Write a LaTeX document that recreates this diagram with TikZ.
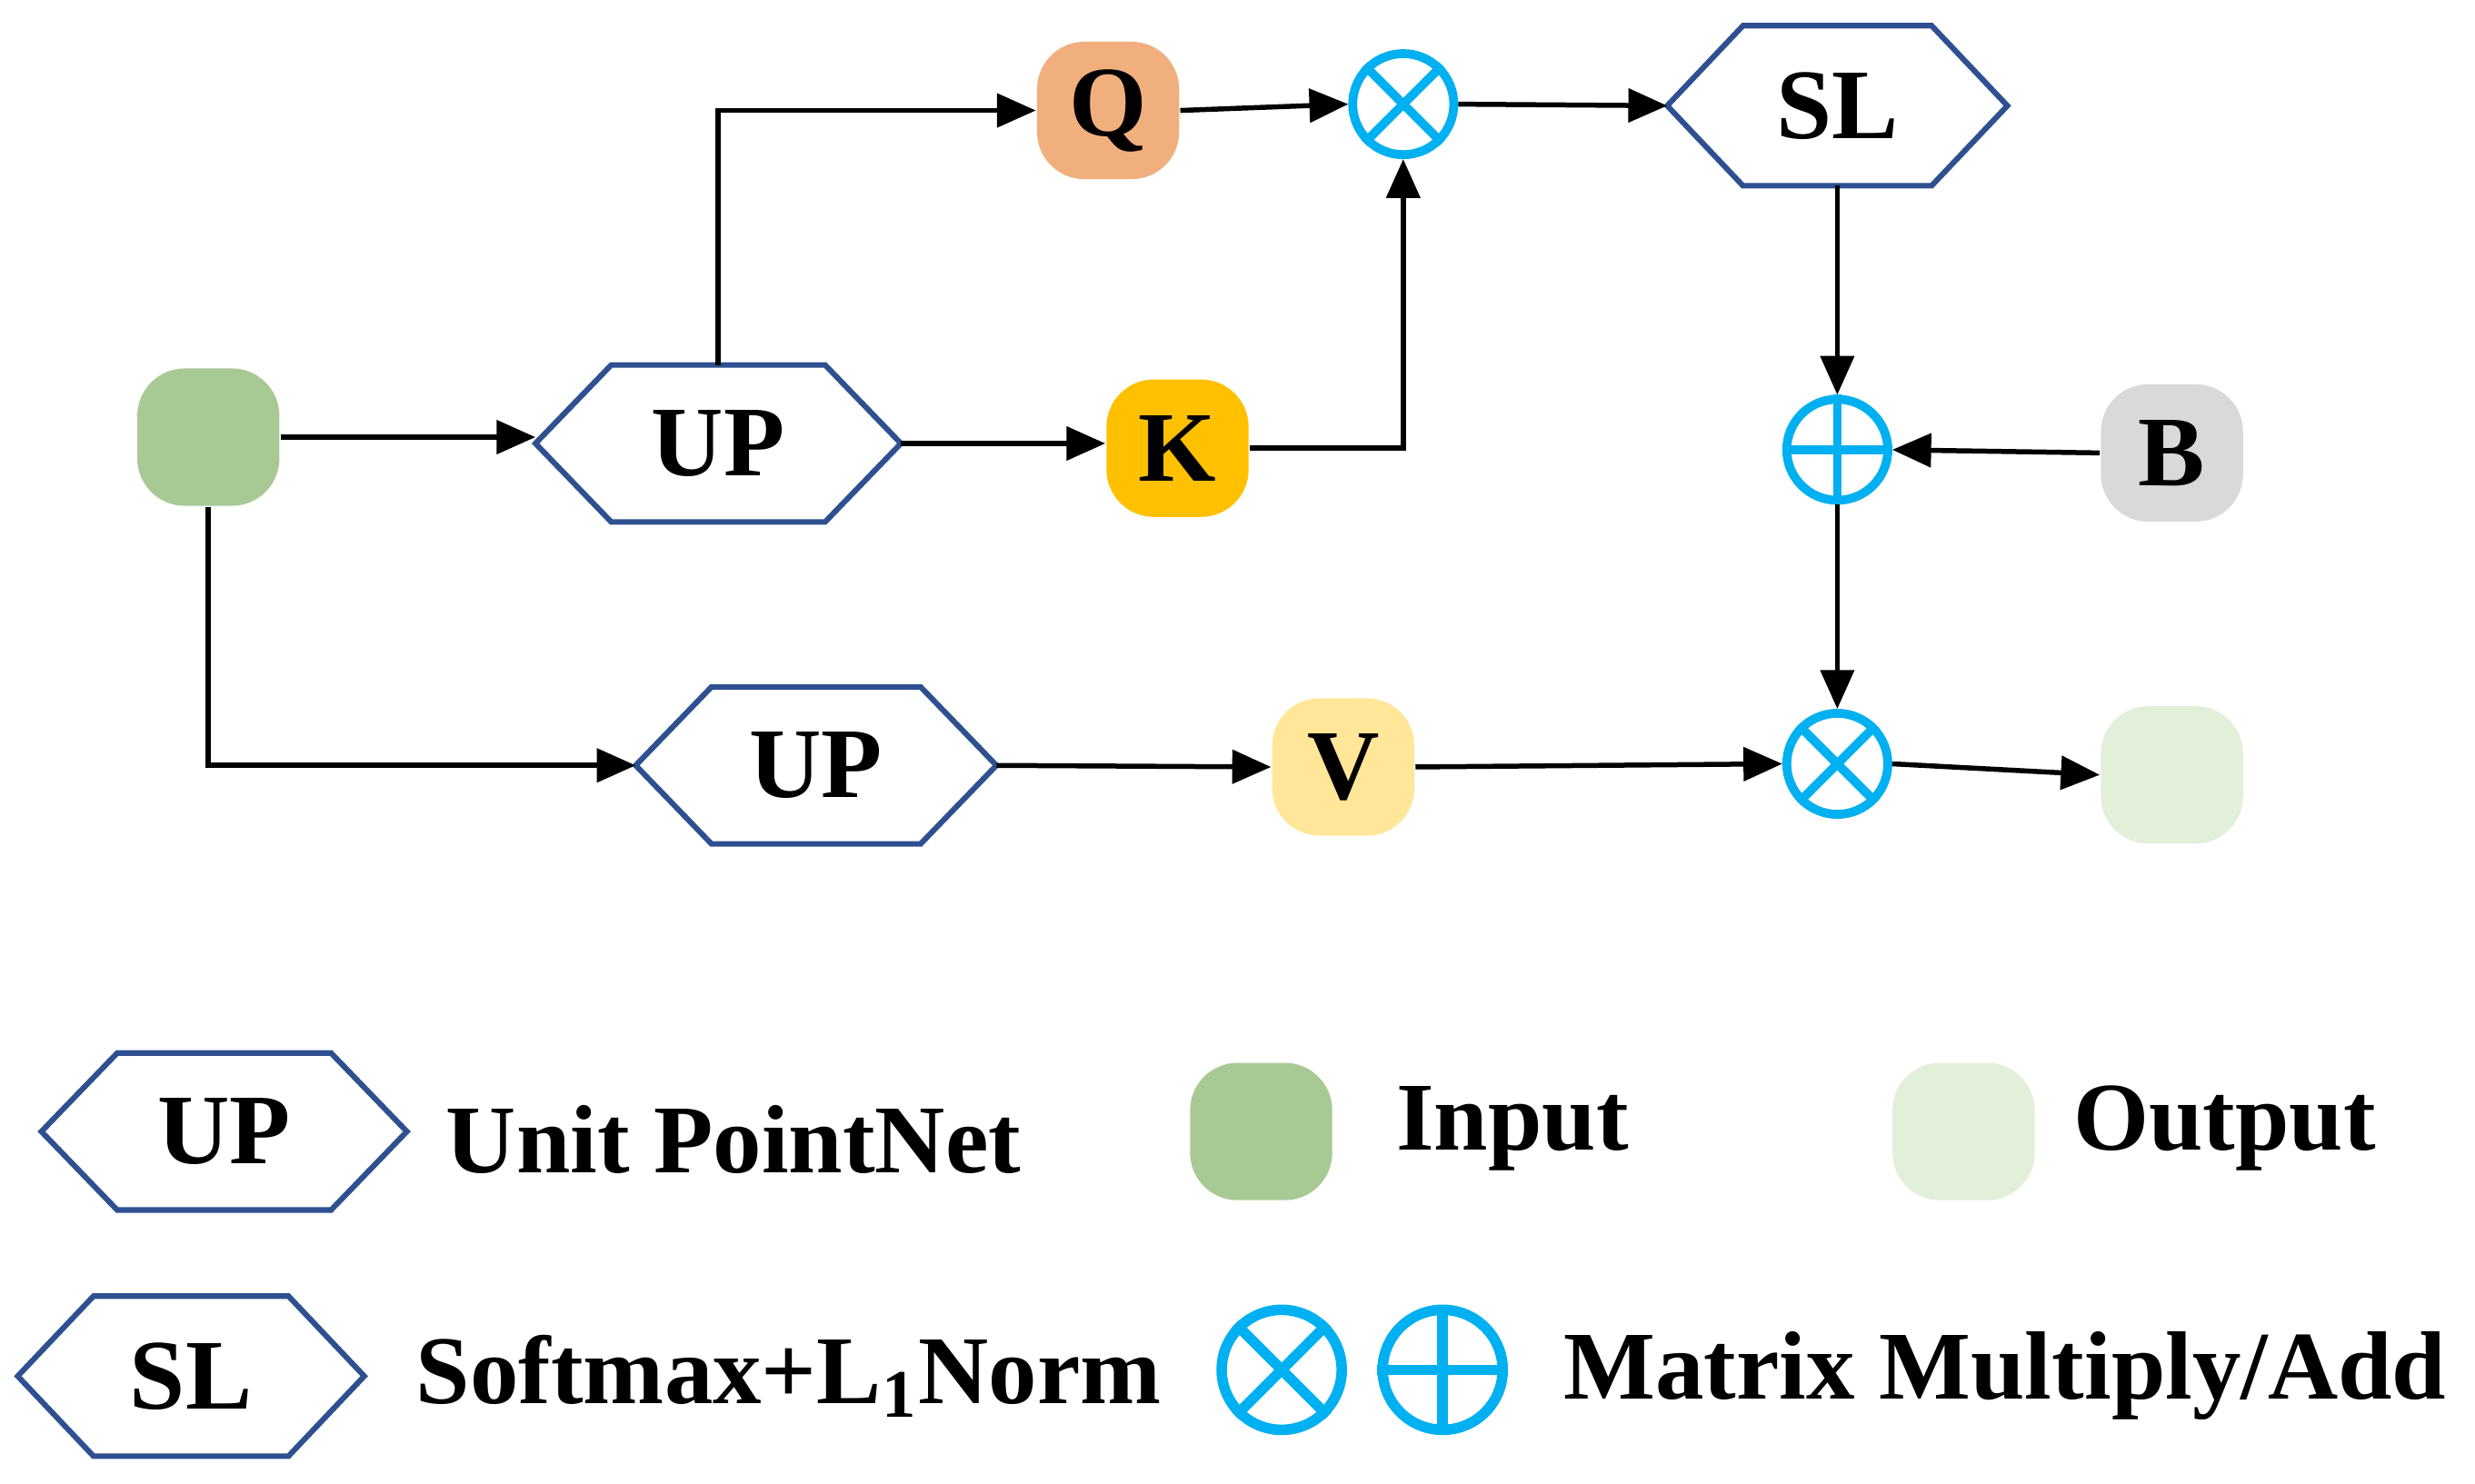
\documentclass[tikz,border=0pt]{standalone}
\usepackage{fontspec}
\setmainfont{Liberation Serif}
\usetikzlibrary{arrows.meta}
\definecolor{hexb}{HTML}{2F5090}
\definecolor{cy}{HTML}{00B0F0}
\definecolor{cin}{HTML}{A9C994}
\definecolor{cout}{HTML}{E2EFD9}
\definecolor{cq}{HTML}{F2AF7E}
\definecolor{ck}{HTML}{FFC000}
\definecolor{cv}{HTML}{FFE699}
\definecolor{cb}{HTML}{D9D9D9}
\tikzset{
  x=0.01cm,y=-0.01cm,
  box/.style={rectangle,rounded corners=0.3cm,minimum width=0.9cm,minimum height=0.87cm,inner sep=0,font=\bfseries\fontsize{18}{18}\selectfont},
  hexn/.style={rectangle,inner sep=0,font=\bfseries\fontsize{18}{18}\selectfont},
  hexline/.style={draw=hexb,line width=1pt},
  op/.style={circle,draw=cy,line width=1.6pt,minimum size=0.64cm,inner sep=0},
  arr/.style={line width=0.9pt,-{Triangle[length=7pt,width=6pt]}},
  lab/.style={anchor=west,inner sep=0,font=\bfseries\fontsize{17.5}{17.5}\selectfont}
}
\newcommand{\myhex}[5]{%
  \node[hexn,minimum width=#3cm,minimum height=#4cm] (#1) at (#2) {#5};
  \draw[hexline] ([xshift=0.48cm]#1.north west) -- ([xshift=-0.48cm]#1.north east) -- (#1.east) -- ([xshift=-0.48cm]#1.south east) -- ([xshift=0.48cm]#1.south west) -- (#1.west) -- cycle;}
\begin{document}
\begin{tikzpicture}
\useasboundingbox (0,0) rectangle (1568,940);
% main nodes
\node[box,fill=cin] (in) at (132,277) {};
\myhex{up1}{455,281}{2.3}{0.98}{UP}
\node[box,fill=cq] (q) at (702,70) {Q};
\node[box,fill=ck] (k) at (746,284) {K};
\node[op] (m1) at (889,66) {};
\draw[cy,line width=1.6pt] (m1.north west)--(m1.south east) (m1.north east)--(m1.south west);
\myhex{sl}{1164,67}{2.14}{1.0}{SL}
\node[op] (p) at (1164,285) {};
\draw[cy,line width=1.6pt] (p.north)--(p.south) (p.west)--(p.east);
\node[box,fill=cb] (b) at (1376,287) {B};
\myhex{up2}{517,485}{2.27}{0.98}{UP}
\node[box,fill=cv] (v) at (851,486) {V};
\node[op] (m2) at (1164,484) {};
\draw[cy,line width=1.6pt] (m2.north west)--(m2.south east) (m2.north east)--(m2.south west);
\node[box,fill=cout] (out) at (1376,491) {};
% connectors
\draw[arr] (in.east) -- (in.east -| up1.west);
\draw[arr] (up1.north) |- (q.west);
\draw[arr] (up1.east) -- (k.west |- up1.east);
\draw[arr] (k.east) -| (m1.south);
\draw[arr] (q.east) -- (m1.west);
\draw[arr] (m1.east) -- (sl.west);
\draw[arr] (sl.south) -- (p.north);
\draw[arr] (b.west) -- (p.east);
\draw[arr] (p.south) -- (m2.north);
\draw[arr] (in.south) |- (up2.west);
\draw[arr] (up2.east) -- (v.west);
\draw[arr] (v.east) -- (m2.west);
\draw[arr] (m2.east) -- (out.west);
% legend
\myhex{lup}{142,717}{2.3}{0.98}{UP}
\node[lab] (tup) at (282,722) {Unit PointNet};
\node[box,fill=cin] (lin) at (799,717) {};
\node[lab] (tin) at (884,715) {Input};
\node[box,fill=cout] (lout) at (1244,717) {};
\node[lab] (tout) at (1313,715) {Output};
\myhex{lsl}{121,872}{2.18}{1.0}{SL}
\node[lab] (tsl) at (263,872) {Softmax+L\textsubscript{1}Norm};
\node[op,minimum size=0.76cm,line width=1.9pt] (lm) at (812,868) {};
\draw[cy,line width=1.9pt] (lm.north west)--(lm.south east) (lm.north east)--(lm.south west);
\node[op,minimum size=0.76cm,line width=1.9pt] (lp) at (914,868) {};
\draw[cy,line width=1.9pt] (lp.north)--(lp.south) (lp.west)--(lp.east);
\node[lab] (top) at (990,872) {Matrix Multiply/Add};
\end{tikzpicture}
\end{document}
